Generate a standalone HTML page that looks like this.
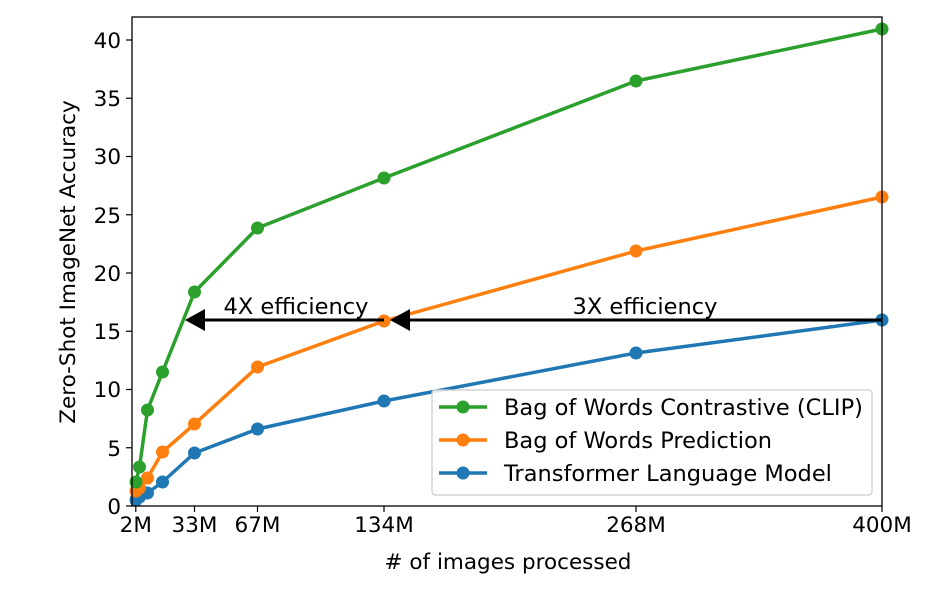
<!DOCTYPE html><html><head><style>body{margin:0;background:#fff}svg{font-family:"DejaVu Sans","Liberation Sans",sans-serif}</style></head><body>
<svg width="926" height="600" viewBox="0 0 926 600" xmlns="http://www.w3.org/2000/svg">
<rect width="926" height="600" fill="#fff"/>
<g font-size="21.5" fill="#000" text-anchor="end">
<text x="121" y="514">0</text><text x="121" y="456">5</text><text x="121" y="397">10</text><text x="121" y="339">15</text><text x="121" y="281">20</text><text x="121" y="223">25</text><text x="121" y="164">30</text><text x="121" y="106">35</text><text x="121" y="48">40</text>
</g>
<g stroke="#000" stroke-width="1.2">
<line x1="126" y1="506" x2="132" y2="506"/><line x1="126" y1="447.75" x2="132" y2="447.75"/><line x1="126" y1="389.5" x2="132" y2="389.5"/><line x1="126" y1="331.25" x2="132" y2="331.25"/><line x1="126" y1="273" x2="132" y2="273"/><line x1="126" y1="214.75" x2="132" y2="214.75"/><line x1="126" y1="156.5" x2="132" y2="156.5"/><line x1="126" y1="98.25" x2="132" y2="98.25"/><line x1="126" y1="40" x2="132" y2="40"/>
<line x1="135.8" y1="506" x2="135.8" y2="512"/><line x1="194.5" y1="506" x2="194.5" y2="512"/><line x1="257.5" y1="506" x2="257.5" y2="512"/><line x1="384" y1="506" x2="384" y2="512"/><line x1="636" y1="506" x2="636" y2="512"/><line x1="882" y1="506" x2="882" y2="512"/>
</g>
<g font-size="21.5" fill="#000" text-anchor="middle">
<text x="135.8" y="532">2M</text><text x="194.5" y="532">33M</text><text x="257.5" y="532">67M</text><text x="384" y="532">134M</text><text x="636" y="532">268M</text><text x="882" y="532">400M</text>
<text x="508" y="569"># of images processed</text>
<text transform="translate(75,262) rotate(-90)">Zero-Shot ImageNet Accuracy</text>
</g>
<g fill="none" stroke-width="3.5" stroke-linejoin="round">
<polyline stroke="#1f77b4" points="136,500 139.5,497 147.5,493 162.5,482 194.5,453 257.5,429 384,401 636,353 882,320"/>
<polyline stroke="#ff7f0e" points="136,491 139.5,488 147.5,478 162.5,452 194.5,424 257.5,367 384,321 636,251 882,197"/>
<polyline stroke="#2ca02c" points="136,482 139.5,467 147.5,410 162.5,372 194.5,292 257.5,228 384,178 636,81 882,29"/>
</g>
<g fill="#1f77b4"><circle cx="136" cy="500" r="6.5"/><circle cx="139.5" cy="497" r="6.5"/><circle cx="147.5" cy="493" r="6.5"/><circle cx="162.5" cy="482" r="6.5"/><circle cx="194.5" cy="453" r="6.5"/><circle cx="257.5" cy="429" r="6.5"/><circle cx="384" cy="401" r="6.5"/><circle cx="636" cy="353" r="6.5"/><circle cx="882" cy="320" r="6.5"/></g>
<g fill="#ff7f0e"><circle cx="136" cy="491" r="6.5"/><circle cx="139.5" cy="488" r="6.5"/><circle cx="147.5" cy="478" r="6.5"/><circle cx="162.5" cy="452" r="6.5"/><circle cx="194.5" cy="424" r="6.5"/><circle cx="257.5" cy="367" r="6.5"/><circle cx="384" cy="321" r="6.5"/><circle cx="636" cy="251" r="6.5"/><circle cx="882" cy="197" r="6.5"/></g>
<g fill="#2ca02c"><circle cx="136" cy="482" r="6.5"/><circle cx="139.5" cy="467" r="6.5"/><circle cx="147.5" cy="410" r="6.5"/><circle cx="162.5" cy="372" r="6.5"/><circle cx="194.5" cy="292" r="6.5"/><circle cx="257.5" cy="228" r="6.5"/><circle cx="384" cy="178" r="6.5"/><circle cx="636" cy="81" r="6.5"/><circle cx="882" cy="29" r="6.5"/></g>
<g stroke="#000" stroke-width="3"><line x1="200" y1="320" x2="384" y2="320"/><line x1="405" y1="320" x2="882" y2="320"/></g>
<polygon points="185,320 205,309 205,331" fill="#000"/>
<polygon points="390,320 410,309 410,331" fill="#000"/>
<text x="296" y="314" font-size="22.5" text-anchor="middle">4X efficiency</text>
<text x="645" y="314" font-size="22.5" text-anchor="middle">3X efficiency</text>
<rect x="432" y="390" width="440" height="105" rx="3" fill="#fff" fill-opacity="0.85" stroke="#ccc" stroke-width="1.2"/>
<g stroke-width="3.5"><line x1="439" y1="407" x2="487" y2="407" stroke="#2ca02c"/><line x1="439" y1="440" x2="487" y2="440" stroke="#ff7f0e"/><line x1="439" y1="473" x2="487" y2="473" stroke="#1f77b4"/></g>
<circle cx="463" cy="407" r="6.5" fill="#2ca02c"/><circle cx="463" cy="440" r="6.5" fill="#ff7f0e"/><circle cx="463" cy="473" r="6.5" fill="#1f77b4"/>
<g font-size="22.5" fill="#000"><text x="504" y="415">Bag of Words Contrastive (CLIP)</text><text x="504" y="448">Bag of Words Prediction</text><text x="504" y="481">Transformer Language Model</text></g>
<rect x="132" y="17" width="750" height="489" fill="none" stroke="#000" stroke-width="1.3"/>
</svg>
</body></html>
